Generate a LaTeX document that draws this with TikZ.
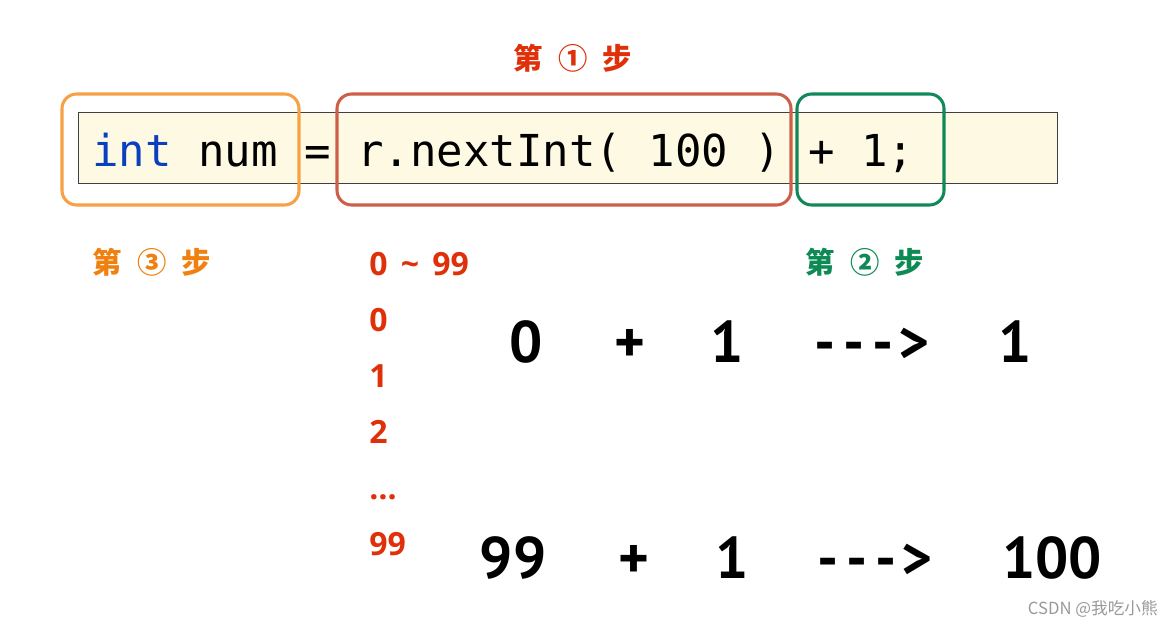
\documentclass[tikz,border=0pt]{standalone}
\usepackage{fontspec}
\usepackage{xcolor}
\newfontfamily\codefont{DejaVu Sans Mono}
\newfontfamily\cjk{Noto Sans CJK SC}
\newfontfamily\numfont{Open Sans}
\newfontfamily\handfont{PT Sans}
\definecolor{codebg}{HTML}{FEF9E2}
\definecolor{kwblue}{HTML}{0A3FBF}
\definecolor{boxorange}{HTML}{F8A044}
\definecolor{boxred}{HTML}{CD5E47}
\definecolor{boxgreen}{HTML}{12875A}
\definecolor{txtorange}{HTML}{F0800F}
\definecolor{txtred}{HTML}{E0300A}
\definecolor{txtgreen}{HTML}{0E8A55}
\newcommand{\stepname}[1]{第\hspace{12pt}#1\hspace{11pt}步}
\newcommand{\dasharrow}{-\kern6pt-\kern6pt-\kern4pt>}

\begin{document}
\begin{tikzpicture}[x=0.75pt,y=0.75pt,yscale=-1,xscale=1,
  code/.style={inner sep=0pt,anchor=base west,font=\codefont\fontsize{33}{40}\selectfont},
  stepbox/.style={line width=2.3pt,rounded corners=11pt},
  steplabel/.style={inner sep=0pt,font=\cjk\bfseries\fontsize{22}{26}\selectfont},
  rangetxt/.style={inner sep=0pt,anchor=base west,text=txtred,font=\numfont\bfseries\fontsize{24}{28}\selectfont},
  sumtxt/.style={inner sep=0pt,anchor=base,font=\handfont\bfseries\fontsize{44}{52}\selectfont}]
\useasboundingbox (0,0) rectangle (1173,633);

%Shape: Rectangle [code line]
\draw [fill=codebg,draw=black!75,line width=0.6pt] (78,112) rectangle (1057,183) ;

% Text Node
\node [code] (decl) at (92,166) {{\color{kwblue}int} num};
% Text Node
\node [code] (eq) at (304,166) {=};
% Text Node
\node [code] (call) at (357,166) {r.nextInt( 100 )};
% Text Node
\node [code] (inc) at (808,166) {+ 1;};

%Shape: Rounded Rectangle [step 3]
\draw [stepbox,boxorange] (62,94) rectangle (299,205) ;
%Shape: Rounded Rectangle [step 1]
\draw [stepbox,boxred] (337,94) rectangle (791,205) ;
%Shape: Rounded Rectangle [step 2]
\draw [stepbox,boxgreen] (797,94) rectangle (944,205) ;

% Text Node
\node [steplabel,text=txtred] (stepone) at (573,58) {\stepname{①}};
% Text Node
\node [steplabel,text=txtorange] (stepthree) at (152,262) {\stepname{③}};
% Text Node
\node [steplabel,text=txtgreen] (steptwo) at (865,262) {\stepname{②}};

% Text Node
\node [rangetxt] (range) at (369,275) {0\hspace{10pt}\textasciitilde\hspace{10pt}99};
% Text Node
\node [rangetxt] (rzero) at (369,331) {0};
% Text Node
\node [rangetxt] (rone) at (369,387) {1};
% Text Node
\node [rangetxt] (rtwo) at (369,443) {2};
% Text Node
\node [rangetxt] (rdots) at (369,499) {…};
% Text Node
\node [rangetxt] (rlast) at (369,555) {99};

% Text Node
\node [sumtxt] (azero) at (526,362) {0};
\node [sumtxt] (aplus) at (630,362) {+};
\node [sumtxt] (aone) at (727,362) {1};
\node [sumtxt] (aarrow) at (872,362) {\dasharrow};
\node [sumtxt] (aresult) at (1015,362) {1};
% Text Node
\node [sumtxt] (bnine) at (513,578) {99};
\node [sumtxt] (bplus) at (634,578) {+};
\node [sumtxt] (bone) at (732,578) {1};
\node [sumtxt] (barrow) at (875,578) {\dasharrow};
\node [sumtxt] (bresult) at (1052,578) {100};

% Text Node
\node [inner sep=0pt,anchor=base east,text=black!40,font=\cjk\fontsize{12.5}{15}\selectfont] (mark) at (1158,614) {CSDN @我吃小熊};

\end{tikzpicture}
\end{document}
